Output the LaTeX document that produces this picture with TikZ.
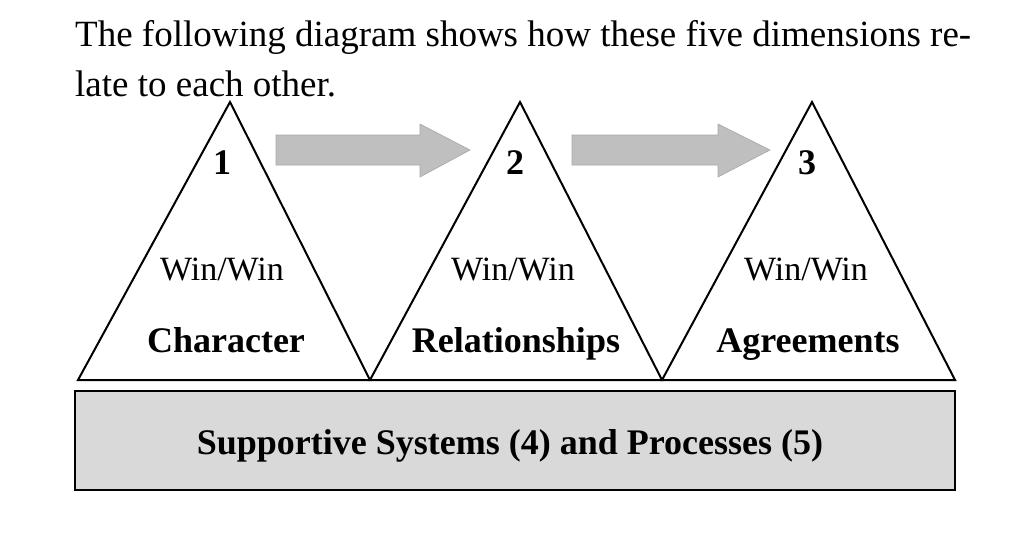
\documentclass[tikz,border=0pt]{standalone}
\usepackage{fontspec}
\setmainfont{Liberation Serif}
\begin{document}
\begin{tikzpicture}[x=1pt,y=-1pt,
  tri/.style={draw=black,line width=2pt,line join=miter},
  garrow/.style={fill=black!25,draw=black!35,line width=0.6pt},
  lbl/.style={font=\fontsize{34}{38}\selectfont,anchor=base},
  blbl/.style={font=\fontsize{36}{40}\selectfont\bfseries,anchor=base}]
\useasboundingbox (0,0) rectangle (1024,538);
\node[anchor=base west,font=\fontsize{37}{42}\selectfont,inner sep=0] (l1) at (75,46) {The following diagram shows how these five dimensions re-};
\node[anchor=base west,font=\fontsize{37}{42}\selectfont,inner sep=0] (l2) at (75,96) {late to each other.};
% arrows
\fill[garrow] (276,135) -- (420,135) -- (420,124) -- (470,150) -- (420,177) -- (420,165) -- (276,165) -- cycle;
\fill[garrow] (572,135) -- (718,135) -- (718,124) -- (770,150) -- (718,177) -- (718,165) -- (572,165) -- cycle;
% triangles
\draw[tri] (78,380) -- (230,102) -- (370,380) -- cycle;
\draw[tri] (370,380) -- (520,102) -- (662,380) -- cycle;
\draw[tri] (662,380) -- (812,102) -- (955,380) -- cycle;
\node[blbl] (n1) at (222,174) {1};
\node[blbl] (n2) at (515,174) {2};
\node[blbl] (n3) at (807,174) {3};
\node[lbl] (w1) at (222,280) {Win/Win};
\node[lbl] (w2) at (513,280) {Win/Win};
\node[lbl] (w3) at (806,280) {Win/Win};
\node[blbl] (c1) at (226,352) {Character};
\node[blbl] (c2) at (516,352) {Relationships};
\node[blbl] (c3) at (808,352) {Agreements};
% bottom box
\draw[fill=black!15,line width=1.6pt] (75,391) rectangle (955,490);
\node[blbl] (sys) at (510,454) {Supportive Systems (4) and Processes (5)};
\end{tikzpicture}
\end{document}
